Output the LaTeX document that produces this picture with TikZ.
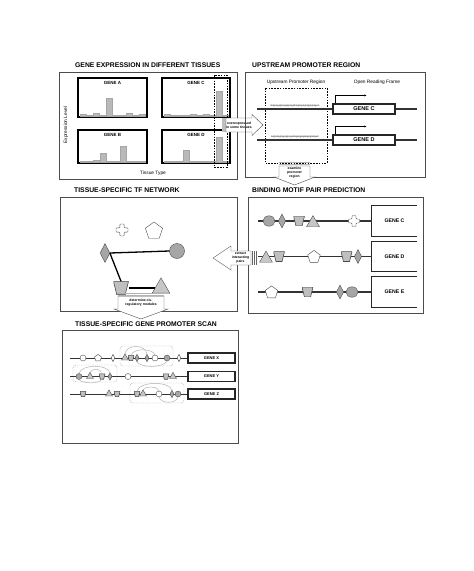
\documentclass[tikz,border=0pt]{standalone}
\usepackage{fontspec}
\setmainfont{Liberation Sans}
\usetikzlibrary{shapes.geometric,arrows.meta,positioning,calc}

\def\ms{10} % motif size, set again in each panel

\tikzset{
    panel/.style={draw=black!70, line width=0.8pt},
    ptitle/.style={anchor=west, inner sep=0pt, font=\bfseries\fontsize{6.8}{8}\selectfont},
    plotbox/.style={draw=black, line width=1.1pt},
    tbar/.style={fill=gray!55, draw=gray!70, line width=0.2pt},
    glabel/.style={inner sep=0pt, font=\bfseries\fontsize{#1}{#1}\selectfont},
    axlabel/.style={inner sep=0pt, font=\fontsize{4.8}{5}\selectfont},
    seq/.style={inner sep=0pt, font=\fontsize{2.3}{2.5}\selectfont},
    note/.style={inner sep=0pt, align=center, font=\bfseries\fontsize{3.4}{4.2}\selectfont},
    blockarrow/.style={draw=black!70, fill=white, line width=0.4pt},
    tailbar/.style={draw=gray!60, line width=0.6pt},
    box dash/.style={draw=black, line width=0.5pt, dash pattern=on 1.6pt off 1.2pt},
    cis/.style={draw=gray!70, line width=0.4pt, dash pattern=on 1pt off 0.8pt, rounded corners=3pt},
    dna/.style={draw=black!80, line width=1.2pt},
    dnasm/.style={draw=black!80, line width=0.9pt},
    genebox/.style={draw=black!85, fill=white, line width=1.1pt, minimum width=#1, inner sep=0pt},
    genebr/.style={draw=black!85, line width=1.2pt},
    tss/.style={draw=black, line width=0.5pt, -{Stealth[length=2.2pt,width=2pt]}},
    net/.style={draw=black, line width=1.3pt},
    link/.style={draw=gray!60, line width=0.5pt},
    motif/.style={draw=black!70, line width=0.4pt, inner sep=0pt, outer sep=0pt},
    mcirc/.style={motif, circle, fill=gray!70, minimum size=\ms},
    mwcirc/.style={motif, circle, fill=white, minimum size=\ms},
    mell/.style={motif, ellipse, fill=gray!70, minimum width=1.1*\ms, minimum height=0.95*\ms},
    mdia/.style={motif, diamond, fill=gray!70, minimum width=0.65*\ms, minimum height=1.25*\ms},
    mwdia/.style={motif, diamond, fill=white, minimum width=0.6*\ms, minimum height=1.2*\ms},
    mtrap/.style={inner sep=0pt, outer sep=0pt, minimum width=\ms, minimum height=0.9*\ms,
        path picture={\draw[draw=black!70, fill=gray!50, line width=0.6pt]
            (path picture bounding box.north west) -- (path picture bounding box.north east)
            -- ($(path picture bounding box.south east)!0.22!(path picture bounding box.south west)$)
            -- ($(path picture bounding box.south west)!0.22!(path picture bounding box.south east)$)
            -- cycle;}},
    mtri/.style={motif, regular polygon, regular polygon sides=3, fill=gray!45, minimum size=1.35*\ms},
    mpent/.style={motif, regular polygon, regular polygon sides=5, fill=white, minimum size=1.2*\ms},
    pics/mplus/.style={code={
        \draw[motif, fill=white, rounded corners=0.8pt] (-1.8,-5) -- (1.8,-5) -- (1.8,-1.8) -- (5,-1.8)
            -- (5,1.8) -- (1.8,1.8) -- (1.8,5) -- (-1.8,5) -- (-1.8,1.8) -- (-5,1.8) -- (-5,-1.8)
            -- (-1.8,-1.8) -- cycle;
    }},
}

\begin{document}
\begin{tikzpicture}[x=1pt,y=-1pt]
    \useasboundingbox (0,0) rectangle (474,571);

    % gene expression in different tissues
    \node[ptitle] (t1) at (75,65) {GENE EXPRESSION IN DIFFERENT TISSUES};
    \draw[panel] (59,72) rectangle (237,179);
    \draw[plotbox] (78,78) rectangle (147,117);   % gene A
    \draw[plotbox] (162,78) rectangle (230,117);  % gene C
    \draw[plotbox] (78,130) rectangle (147,163);  % gene B
    \draw[plotbox] (162,130) rectangle (230,163); % gene D
    \foreach \h [count=\i from 0] in {2,1,3,1,18,1,1,3,1,2}
        \draw[tbar] (80+\i*6.6,116.4) rectangle ++(6,-\h);
    \foreach \h [count=\i from 0] in {1,1,2,9,1,1,16,1,1,1}
        \draw[tbar] (80+\i*6.6,162.4) rectangle ++(6,-\h);
    \foreach \h [count=\i from 0] in {2,1,1,1,2,1,2,1,25,1}
        \draw[tbar] (164+\i*6.5,116.4) rectangle ++(6,-\h);
    \foreach \h [count=\i from 0] in {1,1,1,12,1,1,1,1,25,1}
        \draw[tbar] (164+\i*6.5,162.4) rectangle ++(6,-\h);
    \node[glabel=4.5] (lA) at (112.5,82.5) {GENE A};
    \node[glabel=4.5] (lC) at (196,82.5) {GENE C};
    \node[glabel=4.5] (lB) at (112.5,134.5) {GENE B};
    \node[glabel=4.5] (lD) at (196,134.5) {GENE D};
    \node[axlabel, rotate=90] (ylab) at (66,125) {Expression Level};
    \node[axlabel] (xlab) at (153,173) {Tissue Type};
    \draw[box dash] (214,75) rectangle (227,167); % highest tissue

    % arrow into the promoter panel
    \fill[gray!50] (222,118) rectangle (226,132);
    \draw[blockarrow] (226,118) -- (252,118) -- (252,114.5) -- (263,125) -- (252,135.5) -- (252,132) -- (226,132) -- cycle;
    \node[note] (ovx) at (239,125) {overexpressed\\in some tissues};

    % upstream promoter region
    \node[ptitle] (t2) at (252,65) {UPSTREAM PROMOTER REGION};
    \draw[panel] (245,72) rectangle (425,177);
    \node[axlabel] (upr) at (296,82) {Upstream Promoter Region};
    \node[axlabel] (orf) at (377,82) {Open Reading Frame};
    \draw[box dash] (265,88) rectangle (327,163);
    \coordinate (c0) at (257,109); \coordinate (c1) at (417,109);
    \coordinate (d0) at (257,140); \coordinate (d1) at (417,140);
    \draw[dna] (c0) -- (c1);
    \draw[dna] (d0) -- (d1);
    \node[genebox=62, minimum height=10, glabel=5.5] (gpC) at (364,109) {GENE C};
    \node[genebox=62, minimum height=10, glabel=5.5] (gpD) at (364,140) {GENE D};
    \draw[tss] ([xshift=3pt]gpC.north west) |- ++(31,-8);
    \draw[tss] ([xshift=3pt]gpD.north west) |- ++(31,-8);
    \node[seq] (sqC) at (295,106) {ttatgtatgatgtatgatgtatgattatgtatgatgtatgatgtatgatc};
    \node[seq] (sqD) at (295,137) {tatgtattagtatgatgtatgattatgtatgatgtatgatgtattgatc};

    % arrow down to the motif panel
    \draw[tailbar] (279,162.5) -- (310,162.5);
    \draw[tailbar] (279,164.5) -- (310,164.5);
    \draw[blockarrow] (279,166) -- (310,166) -- (310,177) -- (315,177) -- (294.5,185) -- (274,177) -- (279,177) -- cycle;
    \node[note] (exa) at (294.5,172.5) {examine\\promoter\\region};

    % tissue-specific tf network
    \node[ptitle] (t3) at (74,190) {TISSUE-SPECIFIC TF NETWORK};
    \draw[panel] (60,197) rectangle (237,311);
    \def\ms{15}
    \pic[scale=1.2] (plus) at (122,230) {mplus};
    \node[mpent] (pen) at (154,231) {};
    \node[mdia] (dia) at (105,253) {};
    \node[mcirc] (cir) at (177,251) {};
    \node[mtrap] (trp) at (121,288) {};
    \node[mtri] (tri) at (161,288) {};
    \draw[net] (dia.east) -- (cir.west);
    \draw[net] (dia.east) -- (trp.north);
    \draw[net] (trp.east) -- (tri.west);

    % arrow down to the scan panel
    \draw[tailbar] (118,293) -- (164,293);
    \draw[tailbar] (118,295) -- (164,295);
    \draw[blockarrow] (118,296.5) -- (164,296.5) -- (164,309) -- (168,309) -- (141,319) -- (114,309) -- (118,309) -- cycle;
    \node[note] (det) at (141,303) {determine cis-\\regulatory modules};

    % binding motif pair prediction
    \node[ptitle] (t4) at (252,190) {BINDING MOTIF PAIR PREDICTION};
    \draw[panel] (248,197) rectangle (423,313);
    \def\ms{11}
    \foreach \g/\y in {C/221,D/256.5,E/292} {
        \node[glabel=5.2, minimum width=45, minimum height=30] (g\g) at (394.5,\y) {GENE \g};
        \draw[genebr] (g\g.north east) -- (g\g.north west) -- (g\g.south west) -- (g\g.south east);
        \coordinate (s\g) at (258,\y);
        \draw[dna] (s\g) -- (g\g.west);
    }
    \node[mell] (c1) at (269,221) {};
    \node[mdia] (c2) at (282,221) {};
    \node[mtrap] (c3) at (299,221) {};
    \node[mtri] (c4) at (313,223) {};
    \pic[scale=1.1] (c5) at (354,221) {mplus};
    \node[mtri] (d1) at (266,258.5) {};
    \node[mtrap] (d2) at (279,256.5) {};
    \node[mpent] (d3) at (314,257) {};
    \node[mtrap] (d4) at (346.5,256.5) {};
    \node[mdia] (d5) at (358,256.5) {};
    \node[mpent] (e1) at (271.5,292.5) {};
    \node[mtrap] (e2) at (307.5,292) {};
    \node[mdia] (e3) at (340,292) {};
    \node[mell] (e4) at (352,292) {};

    % arrow back to the network panel
    \draw[blockarrow] (251,251) -- (231,251) -- (231,246) -- (213,258) -- (231,270) -- (231,265) -- (251,265) -- cycle;
    \foreach \x in {252.5,254.5,256.5}
        \draw[tailbar, draw=black!60] (\x,251) -- (\x,265);
    \node[note] (ext) at (240.5,258) {extract\\interacting\\pairs};

    % tissue-specific gene promoter scan
    \node[ptitle] (t5) at (75,324) {TISSUE-SPECIFIC GENE PROMOTER SCAN};
    \draw[panel] (62,330) rectangle (238,443);
    \def\ms{6}
    \foreach \g/\y in {X/358,Y/376.5,Z/394} {
        \node[genebox=47, minimum height=10, glabel=4] (h\g) at (211.5,\y) {GENE \g};
        \coordinate (r\g) at (70,\y);
        \draw[dnasm] (r\g) -- (h\g.west);
    }
    \draw[cis] (120,346) rectangle (173,366);
    \draw[cis] (73,365) rectangle (117,382);
    \draw[cis] (130,383) rectangle (184,403);
    \foreach \s/\x [count=\i] in {mwcirc/83,mpent/98,mwdia/113,mtri/125,mtrap/131,mdia/137,mdia/147,mwcirc/155,mcirc/167,mwdia/179}
        \node[\s] (x\i) at (\x,358) {};
    \foreach \s/\x [count=\i] in {mcirc/79,mtri/90,mtrap/102,mdia/110,mwcirc/128,mtrap/166,mtri/173}
        \node[\s] (y\i) at (\x,376.5) {};
    \foreach \s/\x [count=\i] in {mtrap/83,mtri/109,mtrap/117,mtrap/137,mtri/143,mwcirc/159,mdia/172,mcirc/178}
        \node[\s] (z\i) at (\x,394) {};
    \draw[link] (x4.north) .. controls (126,344) and (146,344) .. (x7.north);
    \draw[link] (x5.north) .. controls (133,348) and (153,348) .. (x8.north);
    \draw[link] (x6.south) .. controls (140,368) and (164,368) .. (x9.south);
    \draw[link] (y1.north) .. controls (81,364) and (108,364) .. (y4.north);
    \draw[link] (y2.north) .. controls (92,368) and (101,368) .. (y3.north);
    \draw[link] (y1.south) .. controls (82,384) and (100,384) .. (y3.south);
    \draw[link] (z4.north) .. controls (139,381) and (170,381) .. (z7.north);
    \draw[link] (z5.north) .. controls (145,386) and (158,386) .. (z6.north);
    \draw[link] (z6.south) .. controls (161,404) and (176,404) .. (z8.south);

\end{tikzpicture}
\end{document}
